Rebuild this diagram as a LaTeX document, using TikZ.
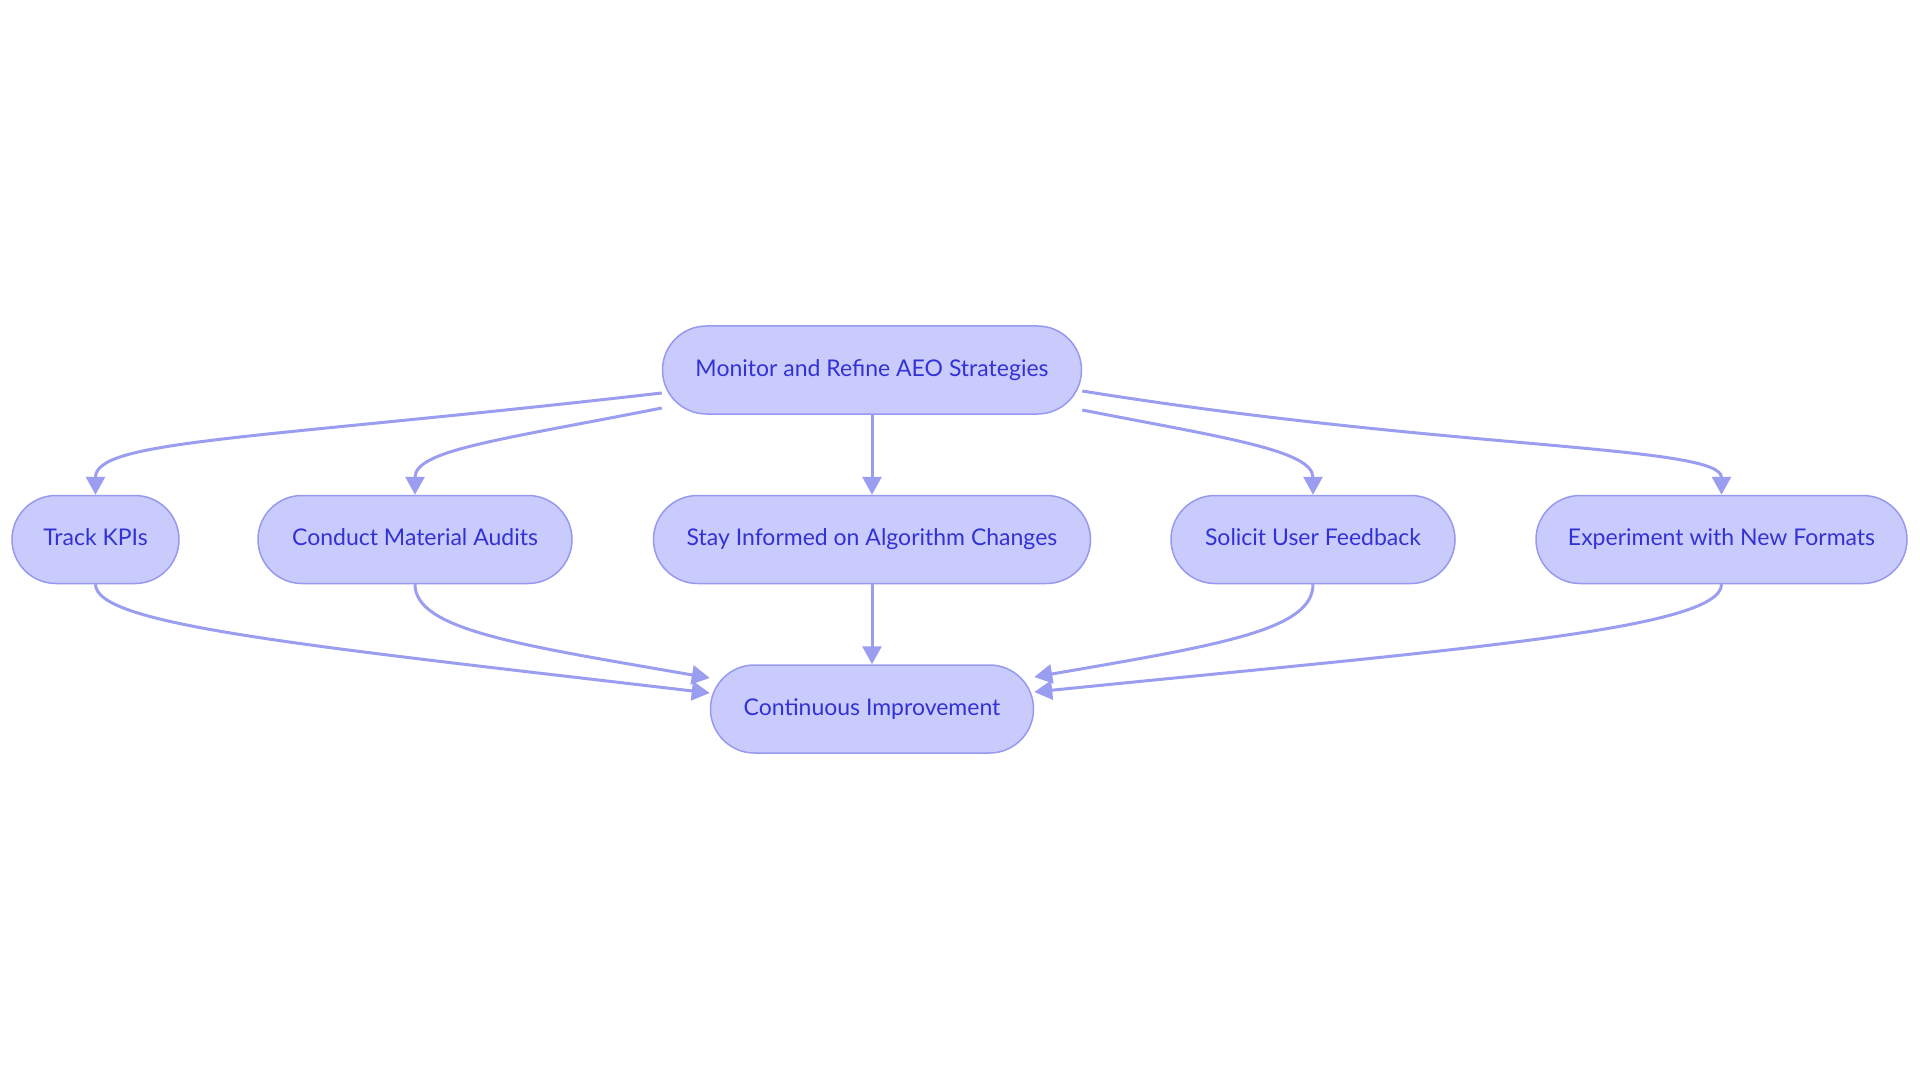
\documentclass[tikz,border=0pt]{standalone}
\usepackage{fontspec}
\setmainfont{Lato}
\usetikzlibrary{arrows.meta}
\definecolor{nodefill}{RGB}{202,203,253}
\definecolor{nodeline}{RGB}{150,153,238}
\definecolor{edgecol}{RGB}{155,158,240}
\definecolor{txtcol}{RGB}{50,50,212}
\tikzset{
  flowbox/.style={draw=nodeline, fill=nodefill, line width=1.5pt, rounded corners=44pt,
    minimum height=88pt, inner sep=0pt, text=txtcol, text height=17pt, text depth=5pt,
    font=\fontsize{23}{28}\selectfont},
  flowedge/.style={draw=edgecol, line width=3pt,
    -{Triangle[length=18pt,width=19pt]}},
}
\begin{document}
\begin{tikzpicture}[x=1pt,y=-1pt]
\useasboundingbox (0,0) rectangle (1920,1083);
\node[flowbox, minimum width=419pt] (top) at (872,370) {Monitor and Refine AEO Strategies};
\node[flowbox, minimum width=167pt] (kpi) at (95.5,539.5) {Track KPIs};
\node[flowbox, minimum width=314pt] (audit) at (415,539.5) {Conduct Material Audits};
\node[flowbox, minimum width=437pt] (algo) at (872,539.5) {Stay Informed on Algorithm Changes};
\node[flowbox, minimum width=284pt] (user) at (1313,539.5) {Solicit User Feedback};
\node[flowbox, minimum width=371pt] (expt) at (1721.5,539.5) {Experiment with New Formats};
\node[flowbox, minimum width=323pt] (cont) at (872,709) {Continuous Improvement};
% top edges
\draw[flowedge] ([yshift=-23pt]top.west) .. controls (250,440) and (95.5,440) .. (kpi.north);
\draw[flowedge] ([yshift=-38pt]top.west) .. controls (500,440) and (415,450) .. (audit.north);
\draw[flowedge] (top.south) -- (algo.north);
\draw[flowedge] ([yshift=-40pt]top.east) .. controls (1220,437) and (1313,450) .. (user.north);
\draw[flowedge] ([yshift=-21pt]top.east) .. controls (1450,450) and (1721.5,445) .. (expt.north);
% bottom edges
\draw[flowedge] (kpi.south) .. controls (95.5,625) and (300,645) .. ([yshift=16pt]cont.west);
\draw[flowedge] (audit.south) .. controls (415,630) and (520,645) .. ([yshift=31pt]cont.west);
\draw[flowedge] (algo.south) -- (cont.north);
\draw[flowedge] (user.south) .. controls (1313,630) and (1220,645) .. ([yshift=32pt]cont.east);
\draw[flowedge] (expt.south) .. controls (1721.5,630) and (1450,650) .. ([yshift=17pt]cont.east);
\end{tikzpicture}
\end{document}
